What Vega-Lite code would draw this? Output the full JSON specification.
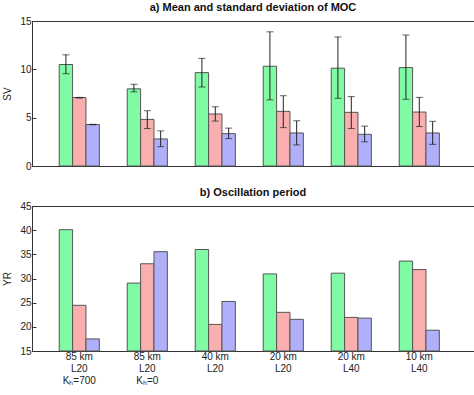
{
  "$schema": "https://vega.github.io/schema/vega-lite/v6.json",
  "padding": {"left": 2, "top": 1, "right": 1, "bottom": 0},
  "background": "white",
  "config": {
    "font": "Liberation Sans",
    "view": {"stroke": "#333", "strokeWidth": 1},
    "axis": {"labelFont": "Liberation Sans", "labelFontSize": 10, "labelColor": "#222", "titleFont": "Liberation Sans", "titleFontSize": 10, "titleFontWeight": "normal", "titleColor": "#222", "domainColor": "#333", "tickColor": "#333", "grid": false},
    "title": {"font": "Liberation Sans", "fontSize": 11, "fontWeight": "bold", "color": "#111", "offset": 3}
  },
  "datasets": {
    "moc": [
      {"g": "85 km|L20|Kₕ=700", "s": "A", "mean": 10.5, "lo": 9.55, "hi": 11.5},
      {"g": "85 km|L20|Kₕ=700", "s": "B", "mean": 7.08, "lo": 7.03, "hi": 7.1},
      {"g": "85 km|L20|Kₕ=700", "s": "C", "mean": 4.29, "lo": 4.27, "hi": 4.31},
      {"g": "85 km|L20|Kₕ=0", "s": "A", "mean": 7.98, "lo": 7.67, "hi": 8.45},
      {"g": "85 km|L20|Kₕ=0", "s": "B", "mean": 4.82, "lo": 3.87, "hi": 5.72},
      {"g": "85 km|L20|Kₕ=0", "s": "C", "mean": 2.8, "lo": 2.0, "hi": 3.63},
      {"g": "40 km|L20", "s": "A", "mean": 9.66, "lo": 8.17, "hi": 11.13},
      {"g": "40 km|L20", "s": "B", "mean": 5.38, "lo": 4.65, "hi": 6.13},
      {"g": "40 km|L20", "s": "C", "mean": 3.35, "lo": 2.83, "hi": 3.92},
      {"g": "20 km|L20", "s": "A", "mean": 10.32, "lo": 6.84, "hi": 13.88},
      {"g": "20 km|L20", "s": "B", "mean": 5.65, "lo": 3.97, "hi": 7.27},
      {"g": "20 km|L20", "s": "C", "mean": 3.42, "lo": 2.18, "hi": 4.68},
      {"g": "20 km|L40", "s": "A", "mean": 10.12, "lo": 7.0, "hi": 13.35},
      {"g": "20 km|L40", "s": "B", "mean": 5.55, "lo": 3.87, "hi": 7.18},
      {"g": "20 km|L40", "s": "C", "mean": 3.28, "lo": 2.5, "hi": 4.13},
      {"g": "10 km|L40", "s": "A", "mean": 10.18, "lo": 6.9, "hi": 13.55},
      {"g": "10 km|L40", "s": "B", "mean": 5.58, "lo": 4.08, "hi": 7.1},
      {"g": "10 km|L40", "s": "C", "mean": 3.42, "lo": 2.24, "hi": 4.62}
    ],
    "period": [
      {"g": "85 km|L20|Kₕ=700", "s": "A", "yr": 40.1},
      {"g": "85 km|L20|Kₕ=700", "s": "B", "yr": 24.45},
      {"g": "85 km|L20|Kₕ=700", "s": "C", "yr": 17.5},
      {"g": "85 km|L20|Kₕ=0", "s": "A", "yr": 29.05},
      {"g": "85 km|L20|Kₕ=0", "s": "B", "yr": 33.05},
      {"g": "85 km|L20|Kₕ=0", "s": "C", "yr": 35.55},
      {"g": "40 km|L20", "s": "A", "yr": 36.0},
      {"g": "40 km|L20", "s": "B", "yr": 20.5},
      {"g": "40 km|L20", "s": "C", "yr": 25.25},
      {"g": "20 km|L20", "s": "A", "yr": 30.95},
      {"g": "20 km|L20", "s": "B", "yr": 23.0},
      {"g": "20 km|L20", "s": "C", "yr": 21.55},
      {"g": "20 km|L40", "s": "A", "yr": 31.1},
      {"g": "20 km|L40", "s": "B", "yr": 21.95},
      {"g": "20 km|L40", "s": "C", "yr": 21.8},
      {"g": "10 km|L40", "s": "A", "yr": 33.6},
      {"g": "10 km|L40", "s": "B", "yr": 31.85},
      {"g": "10 km|L40", "s": "C", "yr": 19.3}
    ]
  },
  "vconcat": [
    {
      "title": "a) Mean and standard deviation of MOC",
      "width": 442,
      "height": 145,
      "data": {"name": "moc"},
      "encoding": {
        "x": {"field": "g", "type": "nominal", "sort": null,
              "scale": {"paddingInner": 0.41, "paddingOuter": 0.455, "align": 0.44},
              "axis": {"title": null, "labels": false, "tickSize": -4, "domain": true}},
        "xOffset": {"field": "s", "type": "nominal", "scale": {"paddingInner": 0, "paddingOuter": 0}}
      },
      "layer": [
        {
          "mark": {"type": "bar", "stroke": "#555", "strokeWidth": 1},
          "encoding": {
            "y": {"field": "mean", "type": "quantitative", "scale": {"domain": [0, 15], "nice": false},
                  "axis": {"title": "SV", "values": [0, 5, 10, 15], "tickSize": -4, "labelPadding": 5, "titlePadding": 7}},
            "color": {"field": "s", "type": "nominal", "legend": null,
                      "scale": {"domain": ["A", "B", "C"], "range": ["#80FAA5", "#FAAFAF", "#AFAFFA"]}}
          }
        },
        {
          "mark": {"type": "rule", "color": "#222", "strokeWidth": 1},
          "encoding": {
            "y": {"field": "lo", "type": "quantitative"},
            "y2": {"field": "hi"}
          }
        },
        {
          "mark": {"type": "tick", "color": "#222", "size": 7, "thickness": 1},
          "encoding": {"y": {"field": "lo", "type": "quantitative"}}
        },
        {
          "mark": {"type": "tick", "color": "#222", "size": 7, "thickness": 1},
          "encoding": {"y": {"field": "hi", "type": "quantitative"}}
        }
      ]
    },
    {
      "title": "b) Oscillation period",
      "width": 442,
      "height": 145,
      "data": {"name": "period"},
      "mark": {"type": "bar", "stroke": "#555", "strokeWidth": 1},
      "encoding": {
        "x": {"field": "g", "type": "nominal", "sort": null,
              "scale": {"paddingInner": 0.41, "paddingOuter": 0.455, "align": 0.44},
              "axis": {"title": null, "labelAngle": 0, "tickSize": -4, "labelPadding": 4,
                       "labelExpr": "split(datum.label, '|')", "labelLineHeight": 12, "labelBaseline": "top"}},
        "xOffset": {"field": "s", "type": "nominal", "scale": {"paddingInner": 0, "paddingOuter": 0}},
        "y": {"field": "yr", "type": "quantitative", "scale": {"domain": [15, 45], "nice": false, "zero": false},
              "axis": {"title": "YR", "values": [15, 20, 25, 30, 35, 40, 45], "tickSize": -4, "labelPadding": 5, "titlePadding": 7}},
        "y2": {"datum": 15},
        "color": {"field": "s", "type": "nominal", "legend": null,
                  "scale": {"domain": ["A", "B", "C"], "range": ["#80FAA5", "#FAAFAF", "#AFAFFA"]}}
      }
    }
  ],
  "spacing": 14
}
